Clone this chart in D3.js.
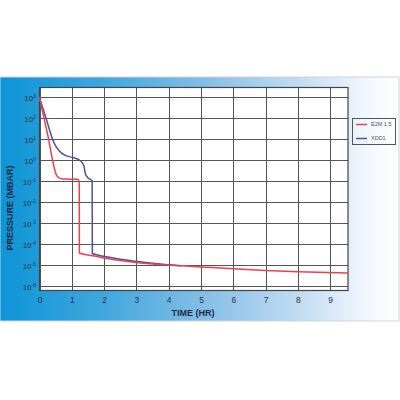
<!DOCTYPE html>
<html><head><meta charset="utf-8">
<script src="https://cdn.jsdelivr.net/npm/d3@7"></script>
<style>body{margin:0;background:#fff}svg{display:block}text{font-family:"Liberation Sans",Arial,sans-serif}</style>
</head><body><svg id="c" width="400" height="400"></svg>
<script>
const xTicks = [0,1,2,3,4,5,6,7,8,9];
const yExponents = [3,2,1,0,-1,-2,-3,-4,-5,-6];
const seriesNames = ["E2M 1.5","XDD1"];
const seriesColors = ["#ef3f4c","#4f4fa6"];
const redTime  = [0,0.25,0.53,0.62,0.75,1.17,1.22,1.23,1.235,1.7,2.0,2.8,3.5,4.4,5,6,7,8,9.55];
const redPress = [1000,17.8,0.195,0.145,0.13,0.126,0.105,0.093,3.9e-5,2.8e-5,2.24e-5,1.5e-5,1.17e-5,9.5e-6,8.5e-6,6.9e-6,5.75e-6,5.0e-6,4.3e-6];
const blueTime  = [0,0.2,0.44,0.6,0.8,1.06,1.25,1.37,1.42,1.5,1.63,1.635,1.8,2.2,2.8,3.5,4.4];
const bluePress = [1000,105,7.4,3.0,1.74,1.35,1.0,0.575,0.234,0.151,0.105,3.7e-5,3.16e-5,2.4e-5,1.7e-5,1.26e-5,9.5e-6];

const svg = d3.select("#c");
const defs = svg.append("defs");
const g = defs.append("linearGradient").attr("id","bg").attr("x1","0").attr("x2","1").attr("y1","0").attr("y2","0");
[[0,"#0c95d6"],[0.25,"#3ea6dd"],[0.5,"#80bde6"],[0.75,"#c2dcf2"],[0.92,"#f2f7fd"],[1,"#ffffff"]].forEach(s=>g.append("stop").attr("offset",s[0]).attr("stop-color",s[1]));
svg.append("rect").attr("x",0).attr("y",77).attr("width",399).attr("height",244).attr("fill","url(#bg)").attr("stroke","#d0d4d8").attr("stroke-width",1);

const x = d3.scaleLinear().domain([0,9.55]).range([39.5,348]);
const y = d3.scaleLog().domain([Math.pow(10,-6.22),Math.pow(10,3.5)]).range([291,87]);

svg.append("rect").attr("x",x.range()[0]).attr("y",87).attr("width",x.range()[1]-x.range()[0]).attr("height",204).attr("fill","#fff");

const grid = svg.append("g").attr("stroke","#555").attr("stroke-width",1);
grid.selectAll(".v").data(xTicks).join("line").attr("x1",d=>Math.round(x(d))+0.5).attr("x2",d=>Math.round(x(d))+0.5).attr("y1",87).attr("y2",291);
grid.selectAll(".h").data(yExponents).join("line").attr("y1",d=>Math.round(y(Math.pow(10,d)))+0.5).attr("y2",d=>Math.round(y(Math.pow(10,d)))+0.5).attr("x1",x.range()[0]).attr("x2",x.range()[1]);
svg.append("rect").attr("x",x.range()[0]).attr("y",87.5).attr("width",x.range()[1]-x.range()[0]).attr("height",203).attr("fill","none").attr("stroke","#444").attr("stroke-width",1.2);

// x axis
const xa = svg.append("g").attr("transform","translate(0,296)")
  .call(d3.axisBottom(x).tickValues(xTicks).tickSize(0).tickFormat(d3.format("d")));
xa.select(".domain").remove();
xa.selectAll("text").attr("font-size",8.5).attr("fill","#2a3340").attr("dy","0.45em").attr("font-family","Liberation Sans, Arial, sans-serif");

// y axis
const ya = svg.append("g").attr("transform","translate(37,0)")
  .call(d3.axisLeft(y).tickValues(yExponents.map(e=>Math.pow(10,e))).tickSize(0).tickPadding(0).tickFormat(""));
ya.select(".domain").remove();
ya.selectAll(".tick text").each(function(d){
  const t = d3.select(this).attr("text-anchor","end").attr("font-family","Liberation Sans, Arial, sans-serif").attr("fill","#2a3340").attr("dy","0.35em").attr("x",-1);
  t.append("tspan").attr("font-size",8).text("10");
  t.append("tspan").attr("font-size",5).attr("dy","-3").text(Math.round(Math.log10(d)));
});

// lines
const line = d3.line().x(d=>x(d[0])).y(d=>y(d[1])).curve(d3.curveMonotoneX);
const blue = blueTime.map((t,i)=>[t,bluePress[i]]);
const red = redTime.map((t,i)=>[t,redPress[i]]);
svg.append("path").attr("d",line(blue)).attr("fill","none").attr("stroke",seriesColors[1]).attr("stroke-width",1.5);
svg.append("path").attr("d",line(red)).attr("fill","none").attr("stroke",seriesColors[0]).attr("stroke-width",1.5);

// titles
svg.append("text").attr("transform","translate(13,208) rotate(-90)").attr("text-anchor","middle").attr("font-size",9).attr("font-weight","bold").attr("fill","#1e2a40").text("PRESSURE (MBAR)");
svg.append("text").attr("x",193).attr("y",316).attr("text-anchor","middle").attr("font-size",9).attr("font-weight","bold").attr("fill","#1e2a40").text("TIME (HR)");

// legend
const lg = svg.append("g");
lg.append("rect").attr("x",352.5).attr("y",118.5).attr("width",43).attr("height",26).attr("fill","none").attr("stroke","#555").attr("stroke-width",1);
seriesNames.forEach((n,i)=>{
  const yy = 124.5 + i*14;
  lg.append("line").attr("x1",356).attr("x2",367).attr("y1",yy).attr("y2",yy).attr("stroke",seriesColors[i]).attr("stroke-width",1.5);
  lg.append("text").attr("x",371).attr("y",yy).attr("dy","0.35em").attr("font-size",5.5).attr("fill","#555").text(n);
});
</script></body></html>
